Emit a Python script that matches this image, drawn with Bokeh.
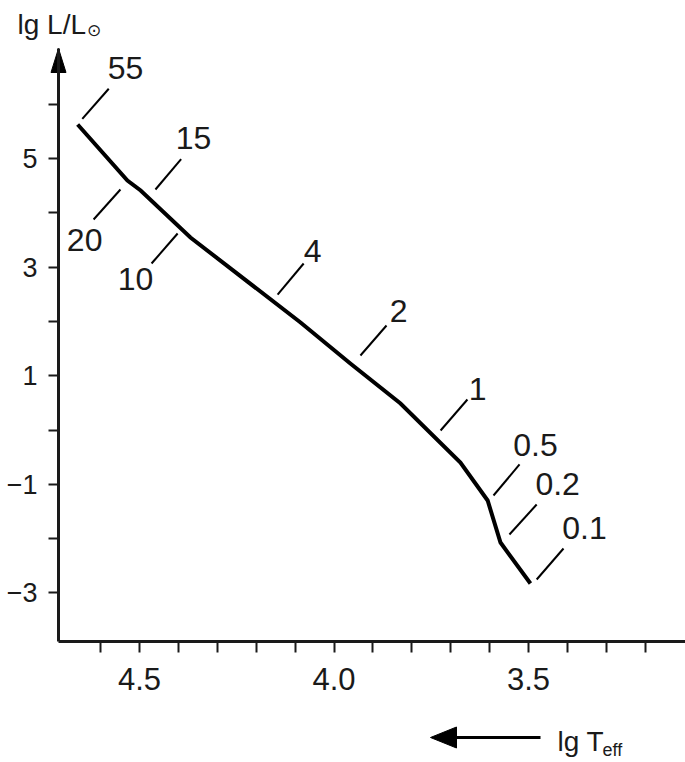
from bokeh.plotting import figure
from bokeh.models import (Range1d, FixedTicker, LinearAxis, CustomJSTickFormatter,
                          NumeralTickFormatter)
from bokeh.core.properties import value
from bokeh.embed import file_html
from bokeh.resources import INLINE

# ---- data: main sequence track (lg Teff, lg L/Lsun) ----
ms_lgT = [4.659, 4.531, 4.497, 4.369, 4.086, 3.958, 3.829, 3.675, 3.605, 3.572, 3.495]
ms_lgL = [5.626, 4.595, 4.411, 3.545, 1.980, 1.225, 0.488, -0.599, -1.298, -2.072, -2.827]

# mass markers (solar masses): marker line start / end, label position
mass_labels = ["55", "15", "20", "10", "4", "2", "1", "0.5", "0.2", "0.1"]
mark_T0 = [4.647, 4.459, 4.549, 4.402, 4.145, 3.932, 3.726, 3.590, 3.549, 3.479]
mark_L0 = [5.731, 4.429, 4.429, 3.619, 2.495, 1.372, -0.009, -1.206, -1.925, -2.753]
mark_T1 = [4.579, 4.393, 4.618, 4.469, 4.078, 3.865, 3.657, 3.523, 3.479, 3.410]
mark_L1 = [6.284, 4.987, 3.877, 3.066, 3.066, 1.924, 0.562, -0.635, -1.372, -2.182]
label_T = [4.536, 4.361, 4.641, 4.510, 4.055, 3.834, 3.631, 3.482, 3.425, 3.356]
label_L = [6.66, 5.37, 3.49, 2.79, 3.29, 2.20, 0.75, -0.28, -1.00, -1.81]

# axis ticks
x_major = [4.5, 4.0, 3.5]
x_minor = [4.6, 4.4, 4.3, 4.2, 4.1, 3.9, 3.8, 3.7, 3.6, 3.4, 3.3, 3.2]
y_major = [5, 3, 1, -1, -3]
y_minor = [6, 4, 2, 0, -2]

W, H = 685, 762
FONT = "Liberation Sans"
INK = "#1a1a1a"


# map reference pixel positions to data coordinates (for layout of frame and annotations)
def T_at(px):
    return 4.5 + (139 - px) / 389.0


def L_at(py):
    return 5 + (158 - py) / 54.3


AX_T = T_at(58)      # position of the vertical axis (lg Teff)
AX_L = L_at(641)     # position of the horizontal axis (lg L)
TOP_L = L_at(48)     # tip of the vertical axis arrow

p = figure(width=W, height=H, x_range=Range1d(T_at(0), T_at(W)), y_range=Range1d(L_at(H), L_at(0)),
           output_backend="svg", toolbar_location=None,
           x_axis_location=None, y_axis_location=None,
           min_border=0, min_border_left=0, min_border_right=0, min_border_top=0, min_border_bottom=0)
p.outline_line_color = None
p.xgrid.visible = False
p.ygrid.visible = False
p.background_fill_color = "white"
p.border_fill_color = "white"

xaxis = LinearAxis(ticker=FixedTicker(ticks=x_major, minor_ticks=x_minor),
                   formatter=NumeralTickFormatter(format="0.0"),
                   fixed_location=AX_L, bounds=(T_at(W), AX_T))
yaxis = LinearAxis(ticker=FixedTicker(ticks=y_major, minor_ticks=y_minor),
                   formatter=CustomJSTickFormatter(code="return tick < 0 ? '\u2212' + Math.abs(tick) : String(tick);"),
                   fixed_location=AX_T, bounds=(AX_L, TOP_L))
for ax in (xaxis, yaxis):
    ax.axis_line_width = 3
    ax.axis_line_color = INK
    ax.major_tick_line_width = 2
    ax.minor_tick_line_width = 2
    ax.major_tick_line_color = INK
    ax.minor_tick_line_color = INK
    ax.major_tick_in = 0
    ax.minor_tick_in = 0
    ax.major_label_text_font = FONT
    ax.major_label_text_color = INK
xaxis.major_tick_out = 11
xaxis.minor_tick_out = 11
xaxis.major_label_text_font_size = "31px"
xaxis.major_label_standoff = 15
yaxis.major_tick_out = 10
yaxis.minor_tick_out = 10
yaxis.major_label_text_font_size = "27px"
yaxis.major_label_standoff = 11
p.add_layout(xaxis, "below")
p.add_layout(yaxis, "left")

# main sequence
p.line(ms_lgT, ms_lgL, line_width=4, line_color="black", line_join="miter")
# mass markers
p.segment(x0=mark_T0, y0=mark_L0, x1=mark_T1, y1=mark_L1, line_width=2, line_color="black")
p.text(x=label_T, y=label_L, text=mass_labels, text_align="center", text_baseline="middle",
       text_font=value(FONT), text_font_size="32px", text_color=INK)

# arrowhead on the vertical axis
p.patch([AX_T, T_at(50.5), T_at(65.5)], [TOP_L, L_at(72), L_at(72)],
        fill_color="black", line_color="black", line_width=1)

# vertical axis title: lg L/L⊙
p.text(x=[T_at(17)], y=[L_at(24)], text=["lg L/L"], text_baseline="alphabetic",
       text_font=value(FONT), text_font_size="28px", text_color=INK)
p.text(x=[T_at(93.5)], y=[L_at(29)], text=["\u2299"], text_align="center", text_baseline="middle",
       text_font=value("DejaVu Sans"), text_font_size="17px", text_color=INK)

# horizontal axis title with arrow: ← lg Teff
p.line([T_at(453), T_at(540)], [L_at(737), L_at(737)], line_width=3, line_color="black")
p.patch([T_at(430), T_at(456), T_at(456)], [L_at(737), L_at(726.5), L_at(747.5)],
        fill_color="black", line_color="black", line_width=1)
p.text(x=[T_at(557)], y=[L_at(741)], text=["lg T"], text_baseline="alphabetic",
       text_font=value(FONT), text_font_size="28px", text_color=INK)
p.text(x=[T_at(602)], y=[L_at(749)], text=["eff"], text_baseline="alphabetic",
       text_font=value(FONT), text_font_size="18px", text_color=INK)

open("out.html", "w").write(file_html(p, INLINE))
